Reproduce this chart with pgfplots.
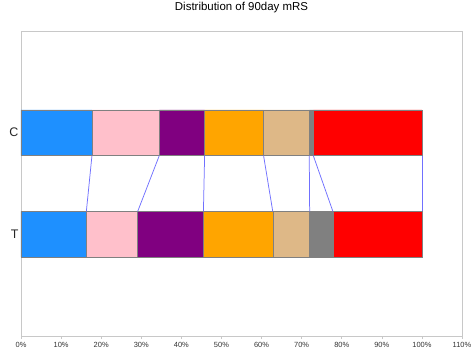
\documentclass[border=0pt]{standalone}
\usepackage{pgfplots}
\pgfplotsset{compat=1.18}
\usepackage{fontspec}
\setmainfont{Liberation Sans}
\definecolor{cBlue}{HTML}{1E90FF}
\definecolor{cPink}{HTML}{FFC0CB}
\definecolor{cPurple}{HTML}{800080}
\definecolor{cOrange}{HTML}{FFA500}
\definecolor{cTan}{HTML}{DEB887}
\definecolor{cGray}{HTML}{808080}
\definecolor{cRed}{HTML}{FF0000}
\definecolor{frameGray}{HTML}{C8C8C8}
\definecolor{serLine}{HTML}{7070FF}
\begin{document}
\begin{tikzpicture}
\path[use as bounding box] (0,0) rectangle (474bp,355bp);
\pgfplotsset{
  base/.style={
    at={(21bp,19bp)}, anchor=south west,
    scale only axis, width=441bp, height=305bp,
    xmin=0, xmax=110, ymin=0, ymax=3,
  }
}
\begin{axis}[base,
  xbar stacked, bar width=0.45,
  axis line style={frameGray, line width=0.8pt},
  xtick={0,10,...,110},
  xticklabels={0\%,10\%,20\%,30\%,40\%,50\%,60\%,70\%,80\%,90\%,100\%,110\%},
  xtick pos=bottom, xtick align=outside,
  major tick length=3bp,
  tick style={frameGray, line width=0.6pt},
  ytick={1,2}, yticklabels={T,C},
  ytick style={draw=none},
  xticklabel style={font=\fontsize{7.5}{8}\selectfont, color=black!80},
  yticklabel style={font=\fontsize{12.5}{14}\selectfont, color=black!85, xshift=1bp},
  /pgf/number format/assume math mode=true,
  title={Distribution of 90day mRS},
  title style={font=\fontsize{11.5}{13}\selectfont, at={(0.5,1)}, yshift=9bp, anchor=south},
  every axis plot/.append style={draw=black!50, line width=0.4pt},
]
\addplot[fill=cBlue]   coordinates {(16.3,1) (17.7,2)};
\addplot[fill=cPink]   coordinates {(12.8,1) (16.8,2)};
\addplot[fill=cPurple] coordinates {(16.4,1) (11.3,2)};
\addplot[fill=cOrange] coordinates {(17.3,1) (14.7,2)};
\addplot[fill=cTan]    coordinates {(9.2,1) (11.4,2)};
\addplot[fill=cGray]   coordinates {(5.8,1) (1.0,2)};
\addplot[fill=cRed]    coordinates {(22.2,1) (27.1,2)};
\end{axis}
\begin{axis}[base, hide axis]
\addplot[serLine, line width=0.75pt] coordinates {(17.7,1.775) (16.3,1.225)};
\addplot[serLine, line width=0.75pt] coordinates {(34.5,1.775) (29.1,1.225)};
\addplot[serLine, line width=0.75pt] coordinates {(45.8,1.775) (45.5,1.225)};
\addplot[serLine, line width=0.75pt] coordinates {(60.5,1.775) (62.8,1.225)};
\addplot[serLine, line width=0.75pt] coordinates {(71.9,1.775) (72.0,1.225)};
\addplot[serLine, line width=0.75pt] coordinates {(72.9,1.775) (77.8,1.225)};
\addplot[serLine, line width=0.75pt] coordinates {(100,1.775) (100,1.225)};
\end{axis}
\end{tikzpicture}
\end{document}
